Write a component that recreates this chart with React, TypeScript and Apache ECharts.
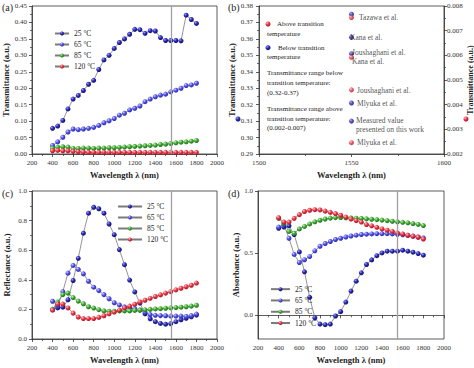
import React, { useEffect, useRef } from "react";
import * as echarts from "echarts";

// ---------- data ----------
const WL = [400, 450, 500, 550, 600, 650, 700, 750, 800, 850, 900, 950, 1000, 1050, 1100, 1150, 1200, 1250, 1300, 1350, 1400, 1450, 1500, 1550, 1600, 1650, 1700, 1750, 1800];
const TEMPS = ["25 °C", "65 °C", "85 °C", "120 °C"];
const MARK_WL = 1550;

// (a) transmittance
const T25 = [0.078, 0.085, 0.102, 0.137, 0.167, 0.178, 0.193, 0.212, 0.224, 0.257, 0.286, 0.300, 0.321, 0.339, 0.350, 0.364, 0.379, 0.378, 0.367, 0.375, 0.374, 0.354, 0.345, 0.345, 0.345, 0.344, 0.422, 0.409, 0.397];
const T65 = [0.026, 0.037, 0.051, 0.067, 0.076, 0.074, 0.076, 0.078, 0.081, 0.087, 0.095, 0.101, 0.108, 0.118, 0.124, 0.134, 0.139, 0.146, 0.159, 0.167, 0.174, 0.179, 0.182, 0.189, 0.194, 0.200, 0.208, 0.210, 0.215];
const T85 = [0.017, 0.021, 0.022, 0.021, 0.017, 0.017, 0.018, 0.018, 0.017, 0.018, 0.018, 0.019, 0.019, 0.020, 0.021, 0.022, 0.023, 0.024, 0.025, 0.026, 0.027, 0.029, 0.030, 0.032, 0.034, 0.036, 0.037, 0.039, 0.041];
const T120 = [0.010, 0.011, 0.010, 0.010, 0.008, 0.007, 0.006, 0.005, 0.005, 0.005, 0.005, 0.005, 0.005, 0.005, 0.005, 0.005, 0.005, 0.005, 0.005, 0.005, 0.005, 0.005, 0.005, 0.005, 0.005, 0.005, 0.005, 0.005, 0.005];

// (c) reflectance
const R25 = [0.20, 0.21, 0.215, 0.265, 0.395, 0.545, 0.715, 0.85, 0.89, 0.88, 0.85, 0.777, 0.705, 0.604, 0.502, 0.398, 0.318, 0.243, 0.17, 0.137, 0.117, 0.105, 0.100, 0.104, 0.117, 0.13, 0.14, 0.15, 0.162];
const R65 = [0.255, 0.225, 0.32, 0.445, 0.497, 0.47, 0.44, 0.39, 0.35, 0.327, 0.30, 0.272, 0.245, 0.23, 0.217, 0.21, 0.205, 0.195, 0.18, 0.165, 0.16, 0.158, 0.157, 0.155, 0.155, 0.155, 0.152, 0.158, 0.168];
const R85 = [0.20, 0.25, 0.30, 0.31, 0.28, 0.256, 0.238, 0.218, 0.209, 0.198, 0.19, 0.188, 0.188, 0.19, 0.19, 0.19, 0.193, 0.195, 0.197, 0.2, 0.203, 0.205, 0.208, 0.21, 0.212, 0.215, 0.218, 0.222, 0.228];
const R120 = [0.195, 0.236, 0.236, 0.21, 0.175, 0.148, 0.138, 0.138, 0.138, 0.146, 0.157, 0.17, 0.182, 0.195, 0.21, 0.222, 0.235, 0.25, 0.262, 0.275, 0.287, 0.298, 0.31, 0.32, 0.332, 0.343, 0.353, 0.363, 0.378];

// (d) absorbance
const A25 = [0.70, 0.71, 0.72, 0.65, 0.51, 0.35, 0.145, -0.02, -0.07, -0.075, -0.07, -0.005, 0.03, 0.107, 0.195, 0.275, 0.342, 0.409, 0.446, 0.48, 0.502, 0.516, 0.516, 0.516, 0.524, 0.516, 0.508, 0.497, 0.484];
const A65 = [0.71, 0.73, 0.62, 0.49, 0.425, 0.447, 0.473, 0.519, 0.556, 0.578, 0.594, 0.61, 0.62, 0.63, 0.638, 0.645, 0.65, 0.653, 0.655, 0.657, 0.657, 0.657, 0.655, 0.652, 0.648, 0.643, 0.637, 0.63, 0.622];
const A85 = [0.78, 0.74, 0.675, 0.66, 0.695, 0.715, 0.735, 0.752, 0.765, 0.775, 0.782, 0.786, 0.787, 0.785, 0.783, 0.781, 0.779, 0.776, 0.773, 0.77, 0.766, 0.762, 0.757, 0.752, 0.748, 0.744, 0.738, 0.731, 0.722];
const A120 = [0.785, 0.75, 0.75, 0.78, 0.81, 0.835, 0.845, 0.85, 0.848, 0.838, 0.828, 0.818, 0.805, 0.79, 0.775, 0.762, 0.75, 0.73, 0.72, 0.708, 0.695, 0.685, 0.676, 0.663, 0.655, 0.644, 0.636, 0.628, 0.614];

// (b) literature comparison at 1550 nm
const B_WL = 1550;
const B_BELOW_NAMES = ["Tazawa et al.", "Kana et al.", "Joushaghani et al.", "Mlyuka et al.", "Measured value\npresented on this work"];
const B_BELOW_VALS = [0.375, 0.361, 0.351, 0.321, 0.310];
const B_ABOVE_NAMES = ["Tazawa et al.", "Kana et al.", "Joushaghani et al.", "Mlyuka et al."];
const B_ABOVE_VALS = [0.00753, 0.00592, 0.0046, 0.00246];

// ---------- styling ----------
const SERIF = "'Liberation Serif', 'Times New Roman', serif";
const PAL = [
  { light: "#9a9aff", mid: "#2a2ab4", dark: "#0c0c5e" },
  { light: "#d0d0ff", mid: "#5050e6", dark: "#2424a6" },
  { light: "#c4f4b0", mid: "#3ea834", dark: "#1a6a14" },
  { light: "#ffc8cc", mid: "#ea3442", dark: "#a01020" },
];
const sphere = (c: any) =>
  new echarts.graphic.RadialGradient(0.35, 0.32, 0.75, [
    { offset: 0, color: c.light },
    { offset: 0.45, color: c.mid },
    { offset: 1, color: c.dark },
  ]);

const BELOW_LABEL_OFFSETS: any[] = [null, [-4, 0], [-2, -0.7], [3, 0], [2, 4]];
const ABOVE_LABEL_OFFSETS: any[] = [[5, 0], [-2, 4.4], [3, 0.7], [3, 0]];

export default function App() {
  const ref = useRef<HTMLDivElement>(null);
  useEffect(() => {
    const chart = echarts.init(ref.current!, null, { renderer: "svg" });

    const axisCommon = {
      axisLine: { show: true, lineStyle: { color: "#333", width: 0.8 } },
      axisTick: { show: true, inside: false, length: 3, lineStyle: { color: "#333", width: 0.8 } },
      minorTick: { show: true, splitNumber: 2, length: 2, lineStyle: { color: "#333", width: 0.7 } },
      splitLine: { show: false },
      axisLabel: { fontSize: 7, fontFamily: SERIF, color: "#333", margin: 5 },
      nameTextStyle: { fontSize: 8.5, fontWeight: "bold", fontFamily: SERIF, color: "#222" },
    };
    const plain = (v: number) => String(v);
    const wlAxis = (gi: number) => ({
      ...axisCommon,
      type: "value",
      gridIndex: gi,
      min: 200,
      max: 2000,
      interval: 200,
      axisLabel: { ...axisCommon.axisLabel, formatter: plain },
      name: "Wavelength λ (nm)",
      nameLocation: "middle",
      nameGap: 16,
    });
    const yAxisBase = (gi: number, name: string, gap: number, extra: any) => ({
      ...axisCommon,
      type: "value",
      gridIndex: gi,
      name,
      nameLocation: "middle",
      nameGap: gap,
      nameRotate: 90,
      ...extra,
    });

    const grid = (left: number, top: number, width: number) => ({
      left, top, width, height: 148,
      show: true, borderColor: "#333", borderWidth: 0.8, backgroundColor: "transparent",
      containLabel: false, outerBoundsMode: "none",
    });

    const lineSeries = (name: string, vals: number[], idx: number, pal: any, withMark: boolean) => ({
      type: "line",
      name,
      xAxisIndex: idx,
      yAxisIndex: idx === 0 ? 0 : idx === 2 ? 3 : 4,
      data: WL.map((w, i) => [w, vals[i]]),
      symbol: "circle",
      symbolSize: 5,
      showSymbol: true,
      lineStyle: { color: "#7a7a7a", width: 0.8 },
      itemStyle: { color: sphere(pal) },
      markLine: withMark
        ? {
            silent: true,
            symbol: ["none", "none"],
            label: { show: false },
            lineStyle: { color: "#a0a0a0", width: 1.3, type: "solid" },
            data: [{ xAxis: MARK_WL }],
          }
        : undefined,
    });

    const panelSeries = (sets: number[][], idx: number) =>
      sets.map((vals, k) => lineSeries(TEMPS[k], vals, idx, PAL[k], k === 0));

    const legendCommon = {
      orient: "vertical",
      itemWidth: 14,
      itemHeight: 5,
      itemGap: 0,
      selectedMode: false,
      data: TEMPS,
      textStyle: { fontSize: 7.5, fontFamily: SERIF, color: "#222", lineHeight: 11 },
    };

    const labelStyle = { fontSize: 7.5, fontFamily: SERIF, color: "#222", lineHeight: 8.7 };

    const bSeries = [
      {
        type: "scatter",
        name: "below",
        xAxisIndex: 1,
        yAxisIndex: 1,
        symbol: "circle",
        symbolSize: 5,
        itemStyle: { color: sphere(PAL[0]) },
        data: B_BELOW_VALS.map((v, i) => ({
          name: B_BELOW_NAMES[i],
          value: [B_WL, v],
          label: BELOW_LABEL_OFFSETS[i]
            ? { show: true, position: "right", distance: 0, offset: BELOW_LABEL_OFFSETS[i], formatter: "{b}", ...labelStyle }
            : { show: false },
        })),
      },
      {
        type: "scatter",
        name: "above",
        xAxisIndex: 1,
        yAxisIndex: 2,
        symbol: "circle",
        symbolSize: 5,
        itemStyle: { color: sphere(PAL[3]) },
        data: B_ABOVE_VALS.map((v, i) => ({
          name: B_ABOVE_NAMES[i],
          value: [B_WL, v],
          label: { show: true, position: "right", distance: 0, offset: ABOVE_LABEL_OFFSETS[i], formatter: "{b}", ...labelStyle },
        })),
      },
    ];

    const txt = (text: string, x: number, y: number, size = 7.5) => ({
      type: "text",
      x,
      y,
      silent: true,
      style: { text, fontSize: size, fontFamily: SERIF, fill: "#222", verticalAlign: "middle", align: "left" },
    });
    const dot = (x: number, y: number, pal: any) => ({
      type: "circle",
      silent: true,
      shape: { cx: x, cy: y, r: 2.5 },
      style: { fill: sphere(pal) },
    });

    const option: any = {
      animation: false,
      backgroundColor: "#fff",
      grid: [grid(32, 6, 185), grid(259, 6, 185), grid(32, 191, 185), grid(258, 191, 186)],
      xAxis: [
        wlAxis(0),
        {
          ...axisCommon, type: "value", gridIndex: 1, min: 1500, max: 1600, interval: 50,
          axisLabel: { ...axisCommon.axisLabel, formatter: plain },
          name: "Wavelength λ (nm)", nameLocation: "middle", nameGap: 16,
        },
        wlAxis(2),
        wlAxis(3),
      ],
      yAxis: [
        yAxisBase(0, "Transmittance (a.u.)", 21, { min: 0, max: 0.45, interval: 0.05, axisLabel: { ...axisCommon.axisLabel, formatter: (v: number) => v.toFixed(2) } }),
        yAxisBase(1, "Transmittance (a.u.)", 15, { min: 0.29, max: 0.38, interval: 0.01, axisLabel: { ...axisCommon.axisLabel, margin: 6, formatter: (v: number) => v.toFixed(2) } }),
        yAxisBase(1, "Transmittance (a.u.)", 18, {
          position: "right", min: 0.002, max: 0.008, interval: 0.001,
          nameTextStyle: { ...axisCommon.nameTextStyle, fontSize: 8 },
          axisLabel: { ...axisCommon.axisLabel, margin: 3, formatter: (v: number) => v.toFixed(3) },
        }),
        yAxisBase(2, "Reflectance (a.u.)", 21, { min: 0, max: 1, interval: 0.2, axisLabel: { ...axisCommon.axisLabel, formatter: (v: number) => v.toFixed(1) } }),
        yAxisBase(3, "Absorbance (a.u.)", 14, {
          min: -0.19,
          max: 1,
          minorTick: { show: false },
          axisTick: { ...axisCommon.axisTick, customValues: [0, 0.5, 1] },
          axisLabel: { ...axisCommon.axisLabel, customValues: [0, 0.5, 1], formatter: (v: number) => v.toFixed(1) },
        }),
      ],
      legend: [
        { ...legendCommon, left: 49, top: 23 },
        { ...legendCommon, left: 112, top: 196, itemWidth: 24 },
        { ...legendCommon, left: 265, top: 278.5, itemWidth: 19, textStyle: { ...legendCommon.textStyle, lineHeight: 11.3 } },
      ],
      series: [
        ...panelSeries([T25, T65, T85, T120], 0),
        ...bSeries,
        ...panelSeries([R25, R65, R85, R120], 2),
        ...panelSeries([A25, A65, A85, A120], 3),
      ],
      graphic: {
        elements: [
          txt("(a)", 2, 7, 10),
          txt("(b)", 228, 7, 10),
          txt("(c)", 2, 193, 10),
          txt("(d)", 228, 193, 10),
          dot(268, 24, PAL[3]),
          txt("Above transition", 277, 24.3, 7),
          txt("temperature", 267, 33.5, 7),
          dot(268, 47.7, PAL[0]),
          txt("Below transition", 278, 47.7, 7),
          txt("temperature", 267, 56.7, 7),
          txt("Transmittance range below", 267, 72.5, 7),
          txt("transition temperature:", 267, 82.5, 7),
          txt("(0.32-0.37)", 267, 92.7, 7),
          txt("Transmittance range above", 267, 109.3, 7),
          txt("transition temperature:", 267, 118.5, 7),
          txt("(0.002-0.007)", 267, 127.7, 7),
          dot(238, 119, PAL[0]),
          dot(466, 119, PAL[3]),
        ],
      },
    };

    chart.setOption(option);
    return () => chart.dispose();
  }, []);

  return (
    <div
      ref={ref}
      style={{ position: "absolute", left: 0, top: 0, width: 474, height: 368, background: "#fff" }}
    />
  );
}
